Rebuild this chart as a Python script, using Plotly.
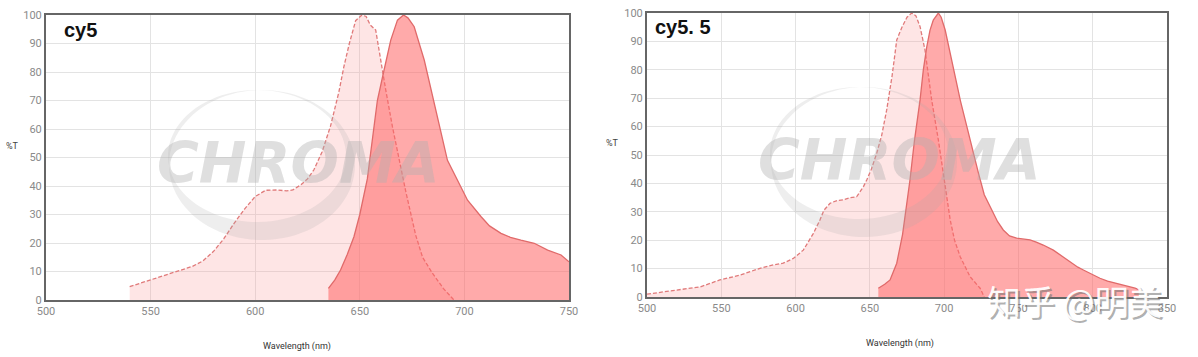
import numpy as np
import plotly.graph_objects as go

# ---------------- data ----------------
cy5_ex_wl = [540, 550, 560, 565, 570, 575, 580, 585, 590, 595, 600, 605, 610, 615, 618, 622, 625, 628,
             632, 636, 640, 642.4, 645, 648, 651, 653, 655, 657.6, 660, 662.4, 665.6, 669.5, 672, 676.7,
             680, 684.7, 690, 695]
cy5_ex_t = [4.7, 7, 9.3, 10.5, 11.8, 13.7, 17, 21.5, 27, 32, 36.3, 38.5, 38.6, 38.3, 38.6, 40.5, 42.5, 45.6,
            52, 61, 73, 81.9, 90, 98, 100, 99.5, 96.5, 94.7, 84, 73.7, 60.8, 46.8, 38, 22.8,
            15, 9.4, 4, 0]

cy5_em_wl = [635, 638, 640.8, 644, 647.2, 650, 653.6, 656, 658.4, 661.6, 664.8, 668, 670.9, 673, 676,
             680.8, 684, 687.1, 691.9, 696.7, 701.5, 708, 712, 717.5, 722, 727, 733.4, 739.8, 746.2, 750]
cy5_em_t = [4.1, 7, 10.5, 16, 22.2, 30, 42.5, 56, 70, 80.7, 91.2, 98.2, 100, 99, 95.9,
            84.2, 74, 64.3, 49, 42, 35, 29.2, 26, 23.4, 22, 21, 19.9, 17.5, 15.8, 13.4]

cy55_ex_wl = [500, 513, 525, 536, 549, 562.6, 576, 585, 591.7, 598.5, 605.2, 612, 616.4, 619, 623.2, 628,
              632.1, 637, 641.1, 645.6, 647.9, 651, 654.6, 658, 661.3, 665, 668.1, 671.6, 675, 678.2,
              681, 683.8, 687.1, 691.6, 696.1, 700, 704.1, 707, 710.8, 717.5, 724.2, 727]
cy55_ex_t = [1.0, 1.9, 2.8, 3.6, 6, 7.7, 10.1, 11.3, 11.9, 13.6, 16.5, 22.4, 27.1, 30.5, 33, 34,
             34.2, 35, 35.3, 38.8, 41.2, 45, 50.6, 57, 65.8, 78, 90.5, 95, 98.5, 100,
             99, 95.2, 87, 69.4, 55.3, 41, 27.1, 20, 14.2, 7.1, 3.1, 0]

cy55_em_wl = [655.7, 660, 663.6, 668.1, 672, 677, 680, 683.8, 686, 688.3, 690.5, 692.7, 696.1, 698, 700.7,
              704, 707.4, 711, 715.3, 719, 723.1, 727, 732, 736, 739.8, 744, 748.8, 753, 757.8, 762,
              766.7, 773.5, 779, 784.7, 790, 793.7, 799, 804.9, 810, 816.2, 822, 828.5, 831]
cy55_em_t = [3.1, 4.5, 6, 11.9, 22, 41.2, 55, 69.4, 80, 88.1, 94, 97.5, 100, 98.5, 94,
             86, 77.6, 69, 60, 52, 43.6, 36, 30.6, 26.5, 23.6, 21.5, 20.7, 20.4, 20.1, 19.3,
             18.3, 16.5, 14.5, 12.4, 10.5, 9.5, 8, 6.6, 5.6, 4.8, 4, 3.1, 2.6]

y_ticks = list(range(0, 101, 10))
x_ticks_left = [500, 550, 600, 650, 700, 750]
x_ticks_right = [500, 550, 600, 650, 700, 750, 800, 850]
titles = ["cy5", "cy5. 5"]

# ---------------- figure ----------------
W, H = 1198, 357
EX_FILL = "rgba(250,150,150,0.25)"
EX_LINE = "#e07a7a"
EM_FILL = "rgba(255,100,100,0.55)"
EM_LINE = "#e06a6a"

fig = go.Figure()

def add_pair(ex_wl, ex_t, em_wl, em_t, xa, ya):
    fig.add_trace(go.Scatter(x=ex_wl, y=ex_t, mode="lines", fill="tozeroy", fillcolor=EX_FILL,
                             line=dict(color=EX_LINE, width=1.3, dash="4px,2px"),
                             xaxis=xa, yaxis=ya, showlegend=False, hoverinfo="skip"))
    fig.add_trace(go.Scatter(x=em_wl, y=em_t, mode="lines", fill="tozeroy", fillcolor=EM_FILL,
                             line=dict(color=EM_LINE, width=1.3),
                             xaxis=xa, yaxis=ya, showlegend=False, hoverinfo="skip"))

add_pair(cy5_ex_wl, cy5_ex_t, cy5_em_wl, cy5_em_t, "x", "y")
add_pair(cy55_ex_wl, cy55_ex_t, cy55_em_wl, cy55_em_t, "x2", "y2")

def px(x):
    return x / W

def py(y):
    return 1 - y / H

axis_common = dict(showgrid=True, gridcolor="#e3e3e3", gridwidth=1, zeroline=False,
                   showline=True, linecolor="#666666", linewidth=2, mirror=True,
                   ticks="", tickfont=dict(family="Roboto", size=11, color="#8a8a8a"),
                   fixedrange=True, automargin=False)

fig.update_layout(
    width=W, height=H, margin=dict(l=0, r=0, t=0, b=0),
    paper_bgcolor="white", plot_bgcolor="white",
    xaxis=dict(domain=[px(46), px(569)], range=[500, 750], tickvals=x_ticks_left,
               anchor="y", ticklabelstandoff=0, **axis_common),
    yaxis=dict(domain=[py(300), py(15)], range=[0, 100], tickvals=y_ticks, anchor="x", **axis_common),
    xaxis2=dict(domain=[px(647), px(1167)], range=[500, 850], tickvals=x_ticks_right,
                anchor="y2", ticklabelstandoff=0, **axis_common),
    yaxis2=dict(domain=[py(297), py(13)], range=[0, 100], tickvals=y_ticks, anchor="x2", **axis_common),
)

annotations = []
shapes = []

def note(x, y, text, font, xanchor="center", yanchor="middle"):
    annotations.append(dict(x=px(x), y=py(y), xref="paper", yref="paper", showarrow=False,
                            xanchor=xanchor, yanchor=yanchor, text=text, font=font))

# watermark swoosh (decoration) + CHROMA text
def crescent(cx, cy):
    t = np.linspace(0, 2 * np.pi, 90)
    ox = cx + 93 * np.cos(t)
    oy = cy + 75 * np.sin(t)
    ix = (cx - 5) + 89 * np.cos(-t)
    iy = (cy - 9) + 66 * np.sin(-t)
    p = "M " + " L ".join(f"{px(a):.5f},{py(b):.5f}" for a, b in zip(ox, oy)) + " Z "
    p += "M " + " L ".join(f"{px(a):.5f},{py(b):.5f}" for a, b in zip(ix, iy)) + " Z"
    return p

for (cx, cy), (tx, ty) in [((262, 165), (298, 163)), ((864, 162), (899, 160))]:
    shapes.append(dict(type="path", path=crescent(cx, cy), xref="paper", yref="paper",
                       fillcolor="rgba(170,170,170,0.20)", line=dict(width=0), layer="above"))
    note(tx, ty, "<b><i>CHROMA</i></b>",
         dict(family="DejaVu Sans", size=57, color="rgba(175,175,175,0.40)"))

# titles
note(62, 30, "<b>" + titles[0] + "</b>", dict(family="Liberation Sans", size=20, color="#111111"), xanchor="left")
note(653, 27, "<b>" + titles[1] + "</b>", dict(family="Liberation Sans", size=20, color="#111111"), xanchor="left")

# axis titles
for x, y in [(12, 146), (612, 143)]:
    note(x, y, "%T", dict(family="Roboto", size=9, color="#444444"))
for x, y in [(297, 346), (900, 343)]:
    note(x, y, "Wavelength (nm)", dict(family="Roboto", size=9, color="#333333"))

# site watermark
note(1077, 302, "知乎 @明美", dict(family="Noto Sans CJK SC", size=34, color="rgba(110,110,110,0.55)"))
note(1075, 300, "知乎 @明美", dict(family="Noto Sans CJK SC", size=34, color="rgba(255,255,255,0.95)"))

fig.update_layout(annotations=annotations, shapes=shapes)

fig.write_html("out.html", config={"displayModeBar": False},
               post_script="document.body.style.margin='0';document.body.style.overflow='hidden';")
